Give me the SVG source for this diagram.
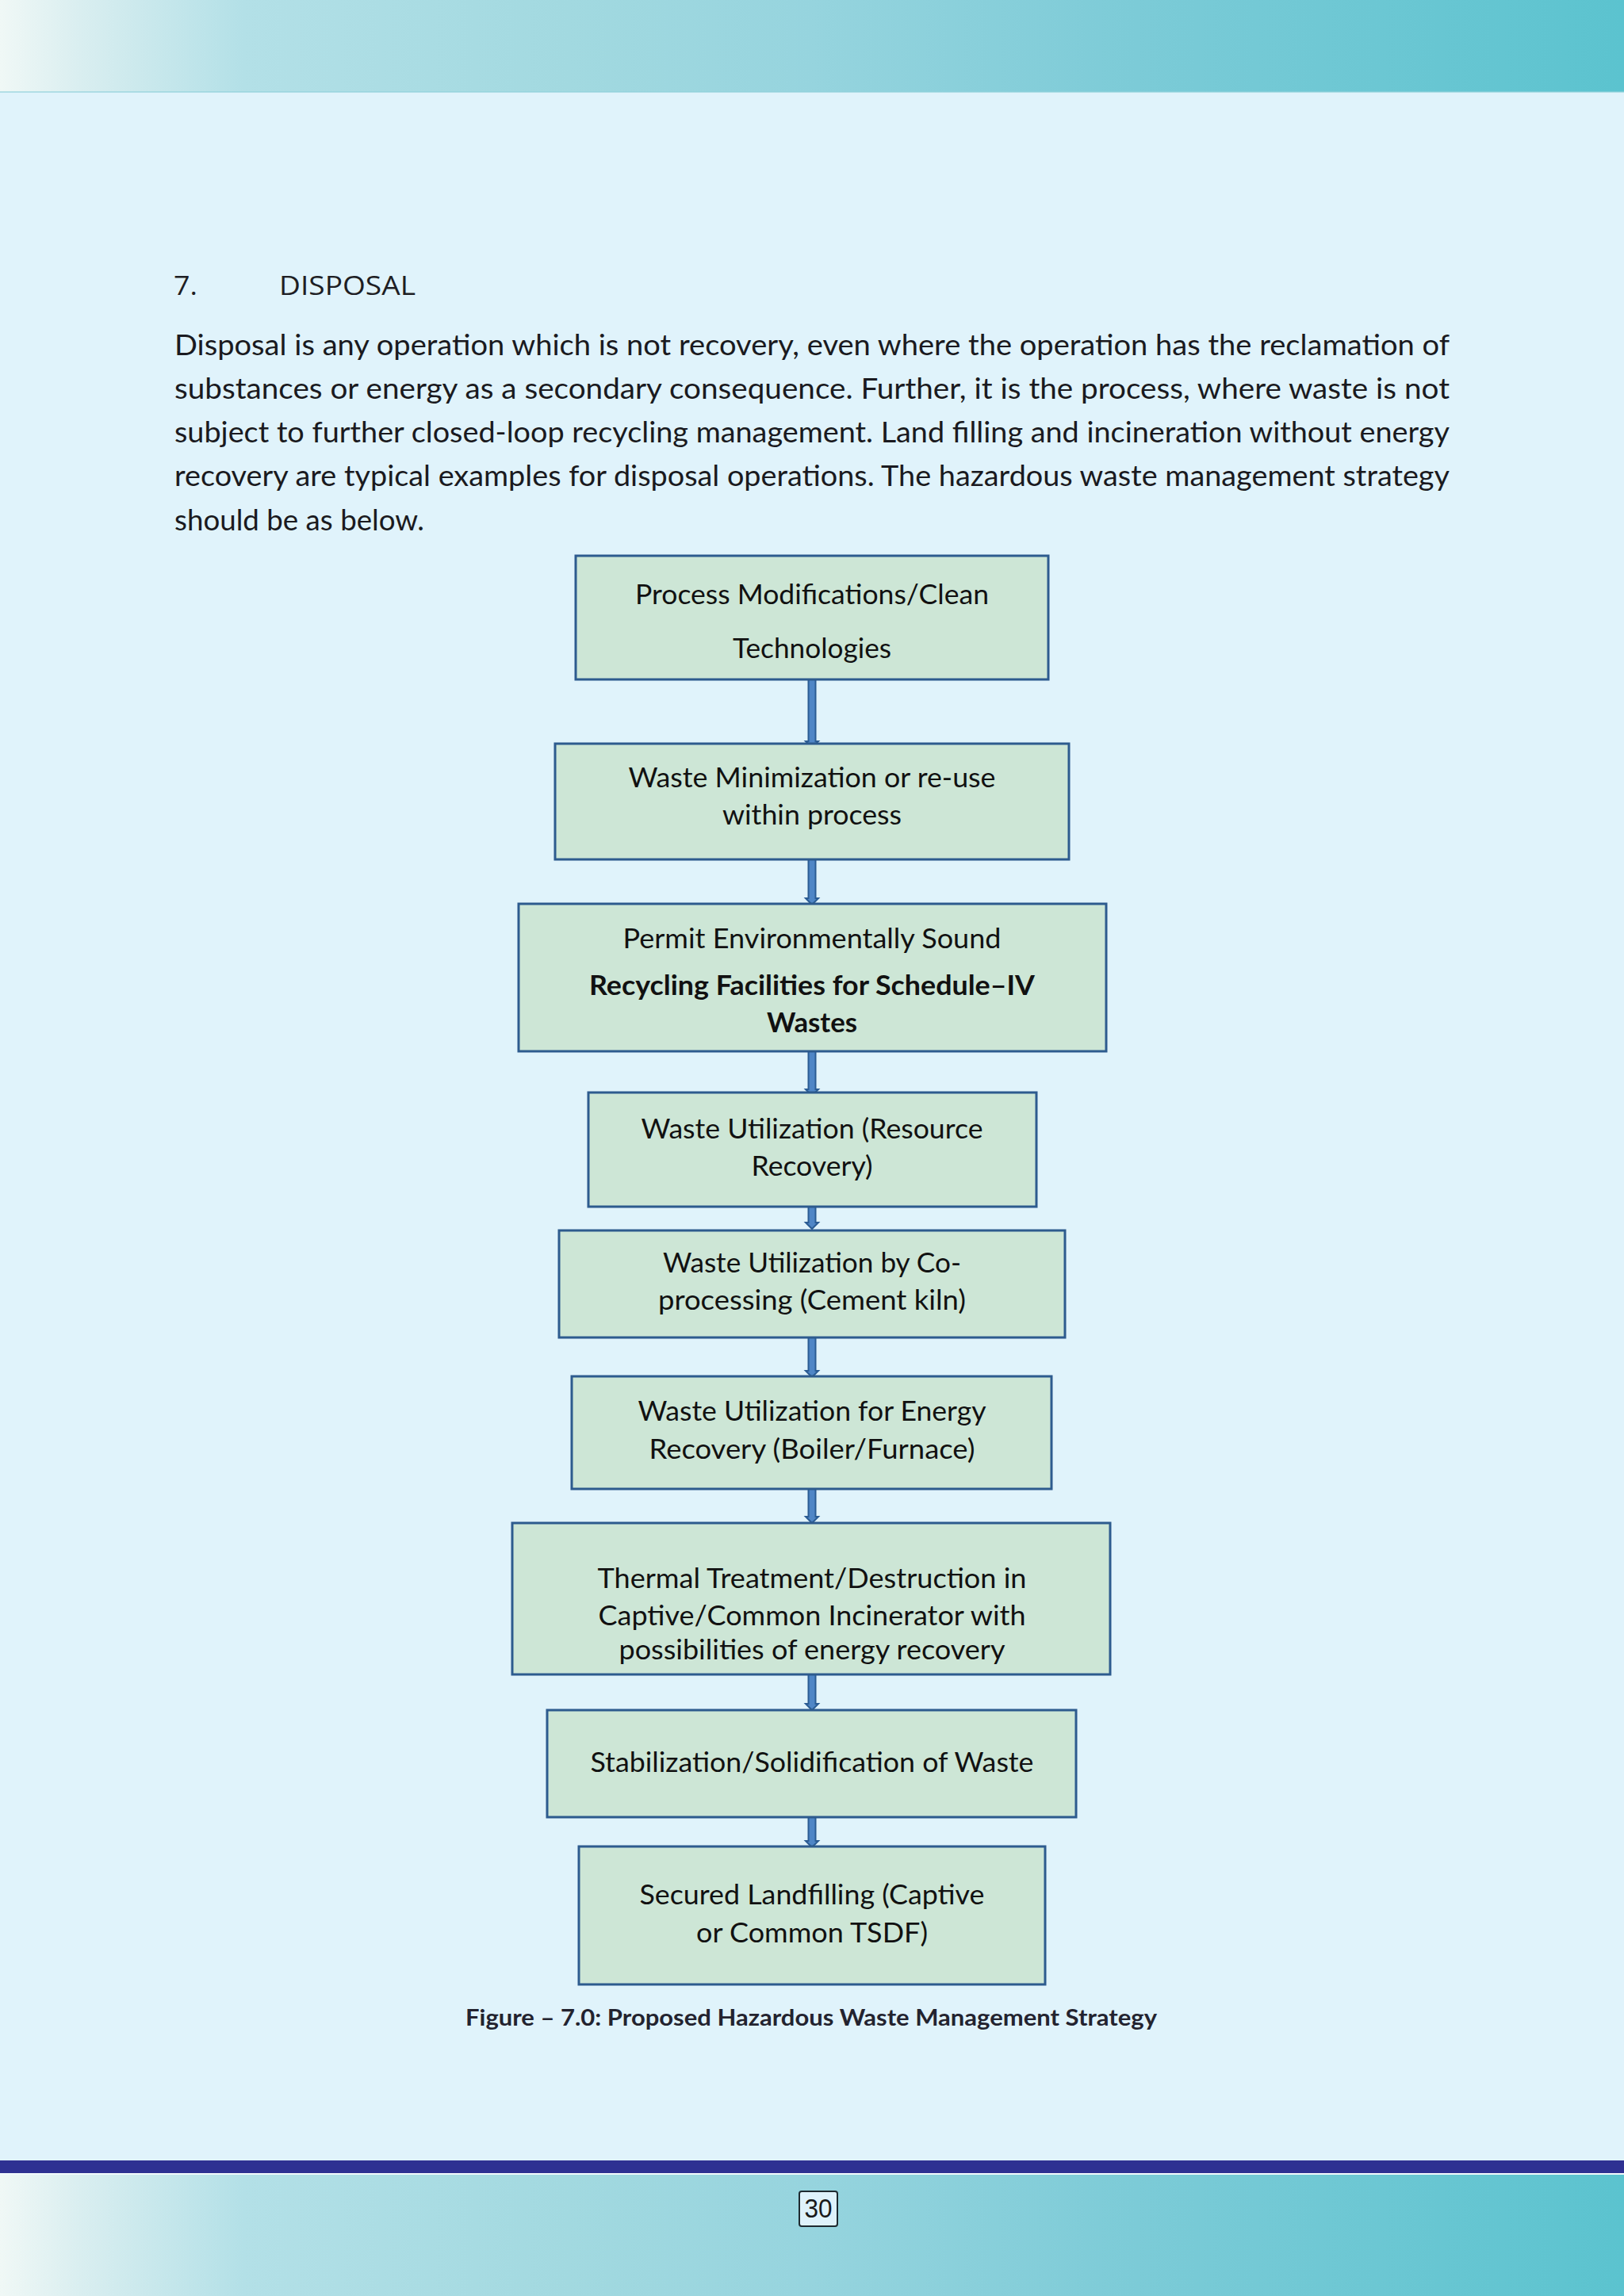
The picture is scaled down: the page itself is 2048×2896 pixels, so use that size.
<svg xmlns="http://www.w3.org/2000/svg" width="2048" height="2896" viewBox="0 0 2048 2896">
  <defs>
    <linearGradient id="band" x1="0" y1="0" x2="1" y2="0">
      <stop offset="0" stop-color="#f0f8f6"/>
      <stop offset="0.05" stop-color="#d9eef0"/>
      <stop offset="0.15" stop-color="#b3e0e7"/>
      <stop offset="0.35" stop-color="#a2d9e0"/>
      <stop offset="0.5" stop-color="#96d4de"/>
      <stop offset="0.7" stop-color="#7ccbd7"/>
      <stop offset="1" stop-color="#5bc3cf"/>
    </linearGradient>
    <style>
      .box { fill: #cde6d6; stroke: #2d5b8e; stroke-width: 3; }
      .t { font-family: Lato, "Open Sans", "Liberation Sans", sans-serif; font-size: 35px; fill: #111111; text-anchor: middle; }
      .tb { font-weight: bold; }
      .body { font-family: Lato, "Open Sans", "Liberation Sans", sans-serif; font-size: 36px; fill: #1a1a20; }
      .head { font-family: "Open Sans", "Liberation Sans", sans-serif; font-size: 33px; fill: #1e1e24; }
      .cap { font-family: Lato, "Open Sans", "Liberation Sans", sans-serif; font-size: 28px; font-weight: bold; fill: #23232f; text-anchor: middle; }
      .arrow { fill: #4f86c6; stroke: #2b5c93; stroke-width: 2; stroke-linejoin: miter; }
    </style>
  </defs>

  <!-- page background -->
  <rect x="0" y="0" width="2048" height="2896" fill="#e0f3fb"/>
  <!-- header band -->
  <rect x="0" y="0" width="2048" height="116" fill="url(#band)"/>
  <rect x="0" y="115" width="2048" height="2" fill="#8fd0da" opacity="0.6"/>
  <!-- footer -->
  <rect x="0" y="2725" width="2048" height="16" fill="#2e3192"/>
  <rect x="0" y="2741" width="2048" height="2" fill="#f2fafc"/>
  <rect x="0" y="2743" width="2048" height="153" fill="url(#band)"/>
  <g id="page-number">
    <rect x="1008" y="2764" width="48" height="44" rx="3" fill="#dff2fb" stroke="#1e2a30" stroke-width="2"/>
    <text x="1032" y="2797" font-family="Liberation Sans, sans-serif" font-size="33" fill="#1a1a1a" text-anchor="middle" textLength="35" lengthAdjust="spacingAndGlyphs">30</text>
  </g>

  <!-- heading and paragraph -->
  <g id="heading">
    <text class="head" x="219" y="372" textLength="30" lengthAdjust="spacingAndGlyphs">7.</text>
    <text class="head" x="352" y="372" textLength="172" lengthAdjust="spacingAndGlyphs">DISPOSAL</text>
  </g>
  <g id="paragraph">
    <text class="body" x="220" y="448" textLength="1608" lengthAdjust="spacingAndGlyphs">Disposal is any operation which is not recovery, even where the operation has the reclamation of</text>
    <text class="body" x="220" y="503" textLength="1608" lengthAdjust="spacingAndGlyphs">substances or energy as a secondary consequence. Further, it is the process, where waste is not</text>
    <text class="body" x="220" y="558" textLength="1608" lengthAdjust="spacingAndGlyphs">subject to further closed-loop recycling management. Land filling and incineration without energy</text>
    <text class="body" x="220" y="613" textLength="1608" lengthAdjust="spacingAndGlyphs">recovery are typical examples for disposal operations. The hazardous waste management strategy</text>
    <text class="body" x="220" y="669" textLength="315" lengthAdjust="spacingAndGlyphs">should be as below.</text>
  </g>

  <!-- connectors -->
  <g id="connectors">
    <path class="arrow" d="M1019.5 855 H1028.5 V935 H1032 L1024 943 L1016 935 H1019.5 Z"/>
    <path class="arrow" d="M1019.5 1078 H1028.5 V1133 H1032 L1024 1141 L1016 1133 H1019.5 Z"/>
    <path class="arrow" d="M1019.5 1322 H1028.5 V1374 H1032 L1024 1382 L1016 1374 H1019.5 Z"/>
    <path class="arrow" d="M1019.5 1522 H1028.5 V1542 H1032 L1024 1550 L1016 1542 H1019.5 Z"/>
    <path class="arrow" d="M1019.5 1681 H1028.5 V1729 H1032 L1024 1737 L1016 1729 H1019.5 Z"/>
    <path class="arrow" d="M1019.5 1866 H1028.5 V1913 H1032 L1024 1921 L1016 1913 H1019.5 Z"/>
    <path class="arrow" d="M1019.5 2103 H1028.5 V2149 H1032 L1024 2157 L1016 2149 H1019.5 Z"/>
    <path class="arrow" d="M1019.5 2285 H1028.5 V2322 H1032 L1024 2330 L1016 2322 H1019.5 Z"/>
  </g>

  <!-- nodes -->
  <g id="node-process-modifications">
    <rect class="box" x="726" y="701" width="596" height="156"/>
    <text class="t" x="1024" y="762" textLength="446" lengthAdjust="spacingAndGlyphs">Process Modifications/Clean</text>
    <text class="t" x="1024" y="830" textLength="200" lengthAdjust="spacingAndGlyphs">Technologies</text>
  </g>
  <g id="node-waste-minimization">
    <rect class="box" x="700" y="938" width="648" height="146"/>
    <text class="t" x="1024" y="993" textLength="463" lengthAdjust="spacingAndGlyphs">Waste Minimization or re-use</text>
    <text class="t" x="1024" y="1040" textLength="226" lengthAdjust="spacingAndGlyphs">within process</text>
  </g>
  <g id="node-permit-recycling">
    <rect class="box" x="654" y="1140" width="741" height="186"/>
    <text class="t" x="1024" y="1196" textLength="477" lengthAdjust="spacingAndGlyphs">Permit Environmentally Sound</text>
    <text class="t tb" x="1024" y="1255" textLength="562" lengthAdjust="spacingAndGlyphs">Recycling Facilities for Schedule–IV</text>
    <text class="t tb" x="1024" y="1302" textLength="114" lengthAdjust="spacingAndGlyphs">Wastes</text>
  </g>
  <g id="node-resource-recovery">
    <rect class="box" x="742" y="1378" width="565" height="144"/>
    <text class="t" x="1024" y="1436" textLength="431" lengthAdjust="spacingAndGlyphs">Waste Utilization (Resource</text>
    <text class="t" x="1024" y="1483" textLength="153" lengthAdjust="spacingAndGlyphs">Recovery)</text>
  </g>
  <g id="node-co-processing">
    <rect class="box" x="705" y="1552" width="638" height="135"/>
    <text class="t" x="1024" y="1605" textLength="376" lengthAdjust="spacingAndGlyphs">Waste Utilization by Co-</text>
    <text class="t" x="1024" y="1652" textLength="388" lengthAdjust="spacingAndGlyphs">processing (Cement kiln)</text>
  </g>
  <g id="node-energy-recovery">
    <rect class="box" x="721" y="1736" width="605" height="142"/>
    <text class="t" x="1024" y="1792" textLength="439" lengthAdjust="spacingAndGlyphs">Waste Utilization for Energy</text>
    <text class="t" x="1024" y="1840" textLength="411" lengthAdjust="spacingAndGlyphs">Recovery (Boiler/Furnace)</text>
  </g>
  <g id="node-thermal-treatment">
    <rect class="box" x="646" y="1921" width="754" height="191"/>
    <text class="t" x="1024" y="2003" textLength="541" lengthAdjust="spacingAndGlyphs">Thermal Treatment/Destruction in</text>
    <text class="t" x="1024" y="2050" textLength="539" lengthAdjust="spacingAndGlyphs">Captive/Common Incinerator with</text>
    <text class="t" x="1024" y="2093" textLength="487" lengthAdjust="spacingAndGlyphs">possibilities of energy recovery</text>
  </g>
  <g id="node-stabilization">
    <rect class="box" x="690" y="2157" width="667" height="135"/>
    <text class="t" x="1024" y="2235" textLength="559" lengthAdjust="spacingAndGlyphs">Stabilization/Solidification of Waste</text>
  </g>
  <g id="node-secured-landfilling">
    <rect class="box" x="730" y="2329" width="588" height="174"/>
    <text class="t" x="1024" y="2402" textLength="435" lengthAdjust="spacingAndGlyphs">Secured Landfilling (Captive</text>
    <text class="t" x="1024" y="2450" textLength="292" lengthAdjust="spacingAndGlyphs">or Common TSDF)</text>
  </g>

  <!-- caption -->
  <g id="caption">
    <text class="cap" x="1023" y="2555" textLength="872" lengthAdjust="spacingAndGlyphs">Figure – 7.0: Proposed Hazardous Waste Management Strategy</text>
  </g>
</svg>
